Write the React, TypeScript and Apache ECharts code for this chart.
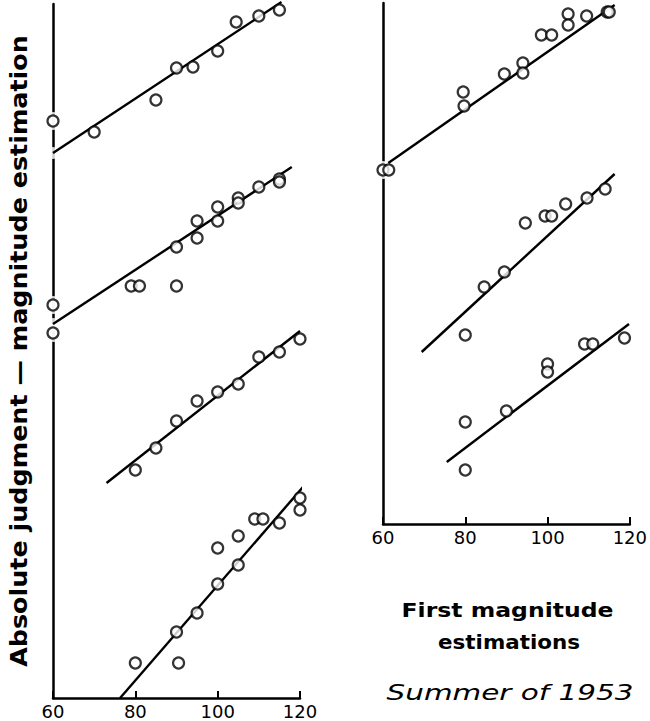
import React, { useEffect, useRef } from "react";
import * as echarts from "echarts";

// x tick values (both panels)
const xTicks = [60, 80, 100, 120];

// Left panel: four sets (y = arbitrary offset units, no scale shown)
const leftA = [[60, 57.7], [70, 56.6], [85, 59.8], [90, 63.0], [94, 63.1], [100, 64.7], [104.5, 67.6], [110, 68.2], [115, 68.8]];
const leftAFit = [[60, 54.5], [115.5, 69.6]];
const leftB = [[60, 39.3], [60, 36.5], [79, 41.2], [81, 41.2], [90, 41.2], [90, 45.1], [95, 47.7], [95, 46.0], [100, 49.1], [100, 47.7], [105, 50.0], [105, 49.5], [110, 51.1], [115, 51.9], [115, 51.6]];
const leftBFit = [[60, 37.4], [118, 53.1]];
const leftC = [[80, 22.8], [85, 25.0], [90, 27.7], [95, 29.7], [100, 30.6], [105, 31.4], [110, 34.1], [115, 34.6], [120, 35.9]];
const leftCFit = [[73, 21.5], [120, 36.7]];
const leftD = [[80, 3.5], [90.5, 3.5], [90, 6.6], [95, 8.5], [100, 11.4], [100, 15.0], [105, 13.3], [105, 16.2], [109, 17.9], [111, 17.9], [115, 17.5], [120, 20.0], [120, 18.8]];
const leftDFit = [[76.3, 0], [122, 21.7]];

// Right panel: three sets
const rightE = [[60, 35.4], [61.4, 35.4], [79.5, 43.2], [79.7, 41.8], [89.5, 45.0], [94, 46.1], [94, 45.1], [98.5, 48.9], [101, 48.9], [105, 51.0], [105, 49.9], [109.5, 50.8], [114.5, 51.2], [115, 51.2]];
const rightEFit = [[61.3, 36.1], [116.3, 51.9]];
const rightF = [[80, 18.9], [84.6, 23.7], [89.5, 25.2], [94.6, 30.1], [99.4, 30.8], [101, 30.8], [104.4, 32.0], [109.6, 32.6], [114, 33.5]];
const rightFFit = [[69.4, 17.2], [116.3, 35.0]];
const rightG = [[80, 10.2], [80, 5.4], [90, 11.3], [100, 16.0], [100, 15.2], [109, 18.0], [111, 18.0], [118.7, 18.6]];
const rightGFit = [[75.5, 6.2], [119.8, 20.0]];

const yTitle = "Absolute judgment — magnitude estimation";
const xTitle1 = "First magnitude";
const xTitle2 = "estimations";
const dateLabel = "Summer of 1953";

function measure(text: string, font: string): number {
  const ctx = document.createElement("canvas").getContext("2d");
  if (!ctx) return 1;
  ctx.font = font;
  return ctx.measureText(text).width || 1;
}

export default function App() {
  const ref = useRef<HTMLDivElement>(null);

  useEffect(() => {
    if (!ref.current) return;
    const chart = echarts.init(ref.current, undefined, { renderer: "svg" });

    const leftSets = [leftA, leftB, leftC, leftD];
    const leftFits = [leftAFit, leftBFit, leftCFit, leftDFit];
    const rightSets = [rightE, rightF, rightG];
    const rightFits = [rightEFit, rightFFit, rightGFit];

    const xAxisBase = (gridIndex: number) => ({
      type: "value" as const,
      gridIndex,
      min: xTicks[0],
      max: xTicks[xTicks.length - 1],
      interval: xTicks[1] - xTicks[0],
      axisLine: { onZero: false, lineStyle: { color: "#000", width: 2.5 } },
      axisTick: { inside: true, length: 7, lineStyle: { color: "#000", width: 2 } },
      axisLabel: { color: "#000", fontSize: 18, fontFamily: "DejaVu Sans", margin: 4 },
      splitLine: { show: false },
    });
    const yAxisBase = (gridIndex: number, max: number) => ({
      type: "value" as const,
      gridIndex,
      min: 0,
      max,
      axisLine: { show: true, onZero: false, lineStyle: { color: "#000", width: 2.5 } },
      axisTick: { show: false },
      axisLabel: { show: false },
      splitLine: { show: false },
    });

    const series: any[] = [];
    const addPanel = (sets: number[][][], fits: number[][][], idx: number) => {
      const all = sets.flat();
      const fitStarts = fits.filter((f) => f[0][0] === xTicks[0]).map((f) => f[0]);
      series.push({
        type: "scatter",
        xAxisIndex: idx,
        yAxisIndex: idx,
        data: all,
        symbol: "circle",
        symbolSize: 18,
        itemStyle: { color: "#fff", borderWidth: 0 },
        silent: true,
        z: 1,
      });
      series.push({
        type: "scatter",
        xAxisIndex: idx,
        yAxisIndex: idx,
        data: fitStarts,
        symbol: "circle",
        symbolSize: 12,
        itemStyle: { color: "#fff", borderWidth: 0 },
        silent: true,
        z: 1,
      });
      fits.forEach((f) => {
        series.push({
          type: "line",
          xAxisIndex: idx,
          yAxisIndex: idx,
          data: f,
          symbol: "none",
          clip: false,
          lineStyle: { color: "#000", width: 2.4 },
          z: 2,
        });
      });
      series.push({
        type: "scatter",
        xAxisIndex: idx,
        yAxisIndex: idx,
        data: all,
        symbol: "circle",
        symbolSize: 11,
        itemStyle: { color: "#fff", borderColor: "#000", borderWidth: 2.2 },
        z: 3,
      });
    };
    addPanel(leftSets, leftFits, 0);
    addPanel(rightSets, rightFits, 1);

    const yFont = 'bold 23px "DejaVu Sans"';
    const tFont = 'bold 20px "DejaVu Sans"';
    const dFont = 'oblique 21px "DejaVu Sans"';
    const sY = 632 / measure(yTitle, yFont);
    const s1 = 212 / measure(xTitle1, tFont);
    const s2 = 142 / measure(xTitle2, tFont);
    const s3 = 247 / measure(dateLabel, dFont);

    chart.setOption({
      animation: false,
      backgroundColor: "#fff",
      grid: [
        { left: 53, top: 4, width: 247, height: 694 },
        { left: 383, top: 3, width: 249, height: 521 },
      ],
      xAxis: [xAxisBase(0), xAxisBase(1)],
      yAxis: [yAxisBase(0, 69.4), yAxisBase(1, 52.1)],
      series,
      graphic: [
        {
          type: "text",
          x: 19,
          y: 351,
          rotation: Math.PI / 2,
          scaleX: sY,
          style: { text: yTitle, fontFamily: "DejaVu Sans", fontWeight: "bold", fontSize: 23, fill: "#000", align: "center", verticalAlign: "middle" },
        },
        {
          type: "text",
          x: 507.5,
          y: 610,
          scaleX: s1,
          style: { text: xTitle1, fontFamily: "DejaVu Sans", fontWeight: "bold", fontSize: 20, fill: "#000", align: "center", verticalAlign: "middle" },
        },
        {
          type: "text",
          x: 509,
          y: 642,
          scaleX: s2,
          style: { text: xTitle2, fontFamily: "DejaVu Sans", fontWeight: "bold", fontSize: 20, fill: "#000", align: "center", verticalAlign: "middle" },
        },
        {
          type: "text",
          x: 510,
          y: 693,
          scaleX: s3,
          style: { text: dateLabel, fontFamily: "DejaVu Sans", fontStyle: "oblique", fontSize: 21, fill: "#000", align: "center", verticalAlign: "middle" },
        },
      ],
    });

    return () => chart.dispose();
  }, []);

  return (
    <div
      ref={ref}
      style={{ position: "fixed", left: 0, top: 0, width: 650, height: 721, background: "#fff" }}
    />
  );
}
